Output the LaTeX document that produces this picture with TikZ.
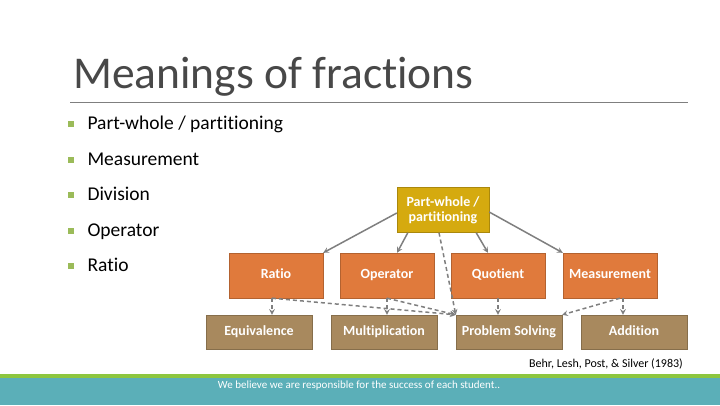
\documentclass[tikz,border=0pt]{standalone}
\usepackage{fontspec}
\setmainfont{Carlito}[RawFeature=-liga]
\usepackage{tikz}
\usetikzlibrary{positioning, arrows}

\definecolor{titlegray}{HTML}{484848}
\definecolor{bulletgreen}{HTML}{9BBB59}
\definecolor{pwgold}{HTML}{D5AA0F}
\definecolor{meanorange}{HTML}{E07A3C}
\definecolor{linkbrown}{HTML}{A8895E}
\definecolor{arrowgray}{HTML}{7F7F7F}
\definecolor{footteal}{HTML}{5BAFB8}
\definecolor{footgreen}{HTML}{8DC63F}

\begin{document}
\begin{tikzpicture}
	[x=1pt, y=-1pt, on grid, >=stealth,
	 box/.style={draw=#1!80!black, fill=#1, text=white, font=\fontsize{14}{15}\selectfont\bfseries,
	             align=center, inner sep=0pt},
	 topbox/.style={box=meanorange, minimum width=94pt, minimum height=45pt,
	                text height=.66em, text depth=.04em},
	 lowbox/.style={box=linkbrown, minimum width=106pt, minimum height=34pt,
	                text height=.66em, text depth=.04em},
	 bullet/.style={fill=bulletgreen, minimum size=6pt, inner sep=0pt},
	 item/.style={anchor=base west, text=black, font=\fontsize{19.5}{21}\selectfont},
	 link/.style={->, arrowgray, line width=1.5pt},
	 dlink/.style={link, dash pattern=on 4pt off 3pt}]
   \useasboundingbox (0,0) rectangle (720,405);
   % title and rule
   \node[anchor=base west, text=titlegray, font=\fontsize{45.5}{48}\selectfont, inner sep=0pt]
        (title) at (73,88) {Meanings of fractions};
   \draw[arrowgray, line width=0.6pt] (70,102) -- (688,102);
   % bullet list
   \foreach \txt [count=\i] in {Part-whole / partitioning, Measurement, Division, Operator, Ratio} {
      \node[bullet] (b_\i) at (71,88.5+35.5*\i) {};
      \node[item] (t_\i) at (84,94+35.5*\i) {\txt};
   }
   % diagram
   \node[box=pwgold, minimum width=92pt, minimum height=45pt] (pw) at (443,210)
        {Part-whole /\\partitioning};
   \node[topbox] (ratio) at (276,275.5) {Ratio};
   \node[topbox] (operator)    [right=111pt of ratio] {Operator};
   \node[topbox] (quotient)    [right=111pt of operator] {Quotient};
   \node[topbox] (measurement) [right=112pt of quotient] {Measurement};
   \node[lowbox] (equiv) at (259,332) {Equivalence};
   \node[lowbox] (mult)     [right=125pt of equiv] {Multiplication};
   \node[lowbox] (problem)  [right=125pt of mult] {Problem Solving};
   \node[lowbox] (addition) [right=125pt of problem] {Addition};
    \path[link]
    (pw.west) ++(0,3)   edge (ratio.north east)
    (pw.south west) ++(11,0) edge (operator.north -| 397,0)
    (pw.south east) ++(-13,0) edge (quotient.north -| 488,0)
    (pw.east) ++(0,2)   edge (measurement.north west);
    \path[dlink]
    (pw.south) ++(-4,0) edge (problem.north west)
    (ratio.south) ++(-4,0) edge (equiv.north -| 272,0)
    (ratio.south) ++(-4,0) edge (problem.north west)
    (operator.south) edge (mult.north -| 387,0)
    (operator.south) edge (problem.north west)
    (quotient.south) edge (quotient.south |- problem.north)
    (measurement.south) ++(13,0) edge (addition.north -| 623,0)
    (measurement.south) ++(10,0) edge (problem.north east);
   % source
   \node[anchor=base east, font=\fontsize{12}{14}\selectfont, inner sep=0pt]
        (source) at (683,367) {Behr, Lesh, Post, \& Silver (1983)};
   % footer
   \fill[footgreen] (0,374) rectangle (720,377.5);
   \fill[footteal] (0,377.5) rectangle (720,405);
   \node[text=white, font=\fontsize{11}{12}\selectfont] (motto) at (359,386)
        {We believe we are responsible for the success of each student..};
\end{tikzpicture}
\end{document}
